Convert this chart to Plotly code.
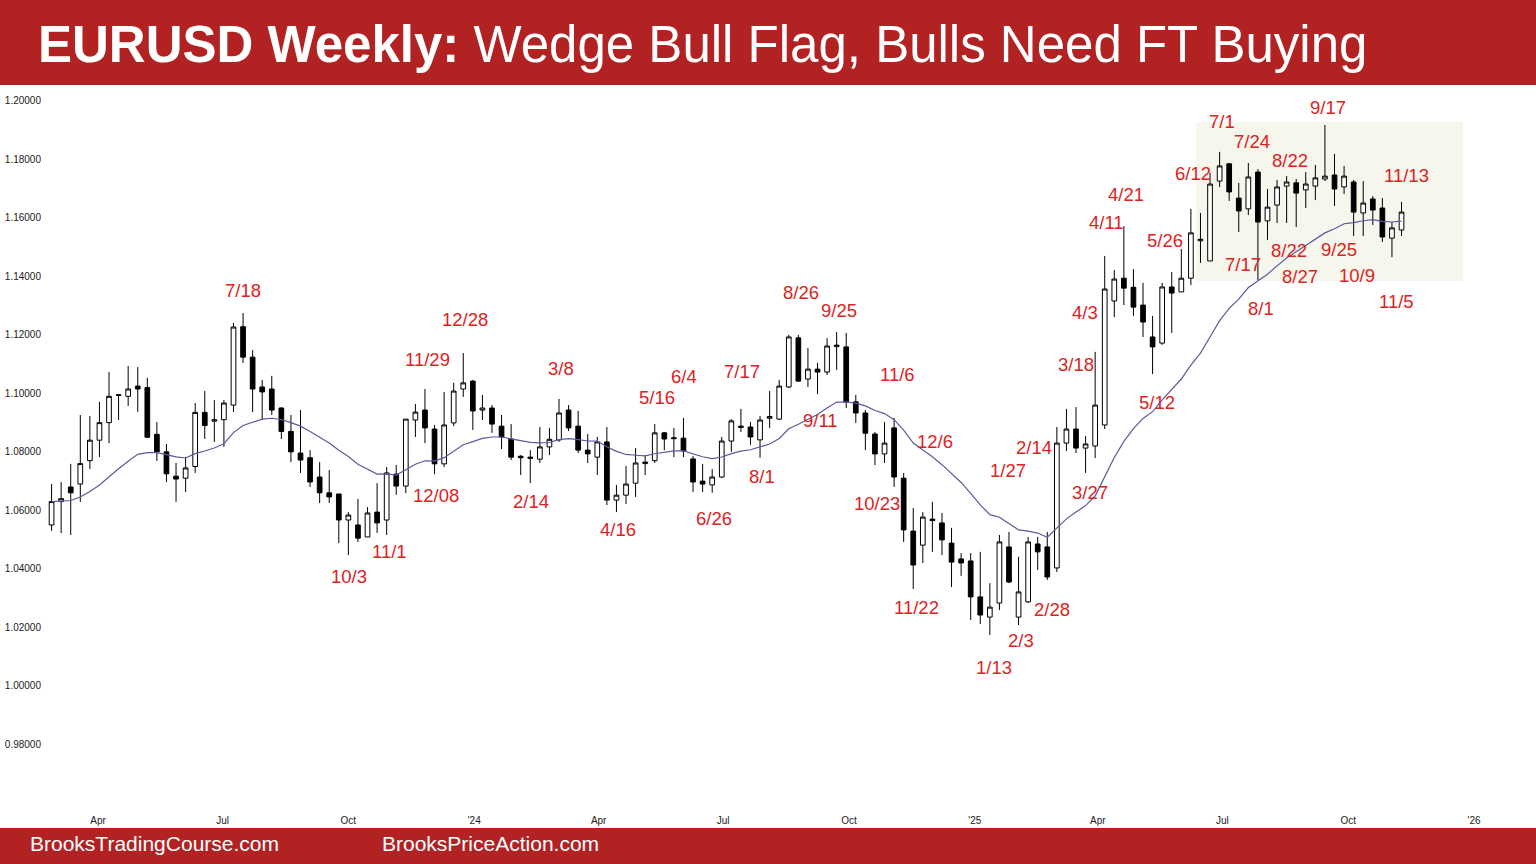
import pandas as pd
import plotly.graph_objects as go

# weekly EURUSD bars (week start dates)
dates = pd.date_range("2023-02-26", periods=142, freq="7D")

opens = [1.055, 1.063, 1.068, 1.069, 1.077, 1.084, 1.090, 1.0993, 1.099, 1.1025,
         1.102, 1.086, 1.080, 1.0717, 1.071, 1.075, 1.0935, 1.0905, 1.091, 1.096,
         1.1228, 1.1124, 1.1022, 1.1015, 1.095, 1.087, 1.0796, 1.078, 1.0714, 1.066,
         1.0656, 1.0567, 1.055, 1.0509, 1.0594, 1.0567, 1.0724, 1.0683, 1.0909, 1.0943,
         1.0878, 1.0759, 1.0899, 1.1015, 1.1042, 1.0943, 1.095, 1.0888, 1.0844, 1.0785,
         1.0782, 1.0775, 1.0817, 1.0841, 1.0943, 1.0888, 1.0806, 1.0782, 1.0834, 1.0635,
         1.0652, 1.0693, 1.0760, 1.0770, 1.0865, 1.0845, 1.0847, 1.0776, 1.0700, 1.0687,
         1.0714, 1.0837, 1.0888, 1.0885, 1.0841, 1.0915, 1.0912, 1.1022, 1.119, 1.1049,
         1.1083, 1.1073, 1.1160, 1.1159, 1.0971, 1.0933, 1.0861, 1.0793, 1.0882, 1.071,
         1.0529, 1.0481, 1.0570, 1.0557, 1.0488, 1.0434, 1.0427, 1.0304, 1.0235, 1.0283,
         1.0475, 1.0235, 1.0287, 1.0485, 1.0475, 1.0403, 1.083, 1.0878, 1.0813, 1.082,
         1.0892, 1.1316, 1.1394, 1.1363, 1.1302, 1.1193, 1.1172, 1.1364, 1.1347, 1.1394,
         1.1522, 1.1453, 1.1726, 1.1785, 1.1668, 1.1631, 1.1757, 1.159, 1.1644, 1.1709,
         1.172, 1.1696, 1.1709, 1.1733, 1.1747, 1.1706, 1.1723, 1.1617, 1.1665, 1.1634,
         1.1531, 1.1559]
highs = [1.069, 1.0697, 1.0759, 1.0926, 1.0923, 1.0971, 1.1073, 1.0995, 1.1094, 1.109,
         1.1053, 1.0902, 1.0827, 1.0762, 1.0783, 1.0967, 1.1008, 1.0977, 1.0977, 1.1241,
         1.1275, 1.1148, 1.1046, 1.106, 1.0953, 1.0926, 1.0943, 1.0806, 1.0765, 1.0738,
         1.0656, 1.0594, 1.0639, 1.0611, 1.0693, 1.0748, 1.0755, 1.0912, 1.0964, 1.1015,
         1.0892, 1.1005, 1.1036, 1.1138, 1.1046, 1.0995, 1.096, 1.0926, 1.0895, 1.0789,
         1.0806, 1.0885, 1.0882, 1.0981, 1.096, 1.094, 1.0861, 1.0851, 1.0885, 1.0687,
         1.0752, 1.0813, 1.0789, 1.0895, 1.0868, 1.0882, 1.0916, 1.0786, 1.0759, 1.0741,
         1.0851, 1.0912, 1.0947, 1.0902, 1.0923, 1.1008, 1.1046, 1.12, 1.12, 1.1155,
         1.1104, 1.1189, 1.121, 1.1207, 1.0995, 1.0943, 1.0868, 1.0902, 1.0916, 1.0728,
         1.0608, 1.0594, 1.0629, 1.0591, 1.054, 1.0454, 1.0454, 1.0458, 1.0351, 1.0516,
         1.0526, 1.0441, 1.0509, 1.0509, 1.0526, 1.0885, 1.0947, 1.0953, 1.0854, 1.1142,
         1.147, 1.1422, 1.1572, 1.1425, 1.1378, 1.1265, 1.1378, 1.1415, 1.1494, 1.1631,
         1.1617, 1.1754, 1.1826, 1.1788, 1.172, 1.1788, 1.1767, 1.1699, 1.173, 1.1743,
         1.1733, 1.1757, 1.1781, 1.1918, 1.1819, 1.1778, 1.173, 1.1726, 1.1675, 1.1668,
         1.1586, 1.1655]
lows = [1.053, 1.0522, 1.0516, 1.0629, 1.0741, 1.0782, 1.083, 1.0909, 1.0957, 1.0937,
        1.0847, 1.0769, 1.0697, 1.0629, 1.0663, 1.0728, 1.0844, 1.0834, 1.0817, 1.0936,
        1.1104, 1.0936, 1.0909, 1.0926, 1.0844, 1.0765, 1.0728, 1.068, 1.0625, 1.0625,
        1.0488, 1.0447, 1.0492, 1.0509, 1.0523, 1.0516, 1.0653, 1.0659, 1.0851, 1.083,
        1.0724, 1.0748, 1.0888, 1.0988, 1.0875, 1.0909, 1.0865, 1.081, 1.0772, 1.0721,
        1.0693, 1.0762, 1.0789, 1.0834, 1.0871, 1.0796, 1.0762, 1.0721, 1.0618, 1.0594,
        1.0622, 1.0646, 1.0721, 1.0762, 1.0806, 1.0782, 1.0782, 1.0663, 1.0663, 1.066,
        1.0711, 1.08, 1.0868, 1.0824, 1.078, 1.0882, 1.0909, 1.1018, 1.1039, 1.1022,
        1.0998, 1.1063, 1.108, 1.095, 1.0899, 1.0806, 1.0755, 1.0762, 1.068, 1.0492,
        1.0331, 1.042, 1.0458, 1.0447, 1.0338, 1.0376, 1.0225, 1.0211, 1.0174, 1.0259,
        1.0351, 1.0208, 1.0283, 1.0396, 1.0362, 1.0389, 1.0803, 1.0796, 1.0728, 1.0779,
        1.0878, 1.1261, 1.1302, 1.1265, 1.1193, 1.1066, 1.1166, 1.1207, 1.1347, 1.137,
        1.1446, 1.1453, 1.1706, 1.1658, 1.1552, 1.161, 1.1388, 1.1525, 1.1583, 1.1583,
        1.1569, 1.1634, 1.1661, 1.1726, 1.1641, 1.1682, 1.1538, 1.1538, 1.1576, 1.1518,
        1.1466, 1.1538]
closes = [1.063, 1.064, 1.066, 1.076, 1.084, 1.090, 1.099, 1.0995, 1.1015, 1.1015,
          1.085, 1.080, 1.0725, 1.0707, 1.0745, 1.0935, 1.089, 1.091, 1.0967, 1.1227,
          1.1124, 1.1015, 1.1005, 1.0943, 1.087, 1.080, 1.0772, 1.0697, 1.066, 1.0646,
          1.0567, 1.0584, 1.0505, 1.0591, 1.0557, 1.0728, 1.0683, 1.0912, 1.0936, 1.0882,
          1.0759, 1.0892, 1.1008, 1.1036, 1.094, 1.0950, 1.0895, 1.0851, 1.0782, 1.078,
          1.0778, 1.0817, 1.0843, 1.0933, 1.0882, 1.0806, 1.0793, 1.0834, 1.0635, 1.0652,
          1.069, 1.0762, 1.0765, 1.0865, 1.0844, 1.0848, 1.0803, 1.0697, 1.0690, 1.0714,
          1.0837, 1.0906, 1.0884, 1.0851, 1.0909, 1.0921, 1.1025, 1.1193, 1.1042, 1.1083,
          1.1073, 1.1162, 1.1165, 1.0971, 1.0933, 1.0864, 1.0793, 1.083, 1.0714, 1.0533,
          1.0413, 1.0577, 1.0565, 1.0499, 1.0423, 1.042, 1.0304, 1.0242, 1.0269, 1.0492,
          1.0355, 1.0321, 1.0492, 1.0458, 1.0372, 1.083, 1.0878, 1.0813, 1.0827, 1.096,
          1.1357, 1.1391, 1.136, 1.1295, 1.1244, 1.1159, 1.1364, 1.1343, 1.1394, 1.1549,
          1.1527, 1.1716, 1.1778, 1.1689, 1.1624, 1.174, 1.1586, 1.1637, 1.1706, 1.1723,
          1.1685, 1.1716, 1.1737, 1.1743, 1.1699, 1.1743, 1.162, 1.1651, 1.1627, 1.1535,
          1.1566, 1.162]

ema = pd.Series(closes).ewm(span=20, adjust=False).mean()

x_ticks = ["2023-04-01", "2023-07-01", "2023-10-01", "2024-01-01", "2024-04-01", "2024-07-01",
           "2024-10-01", "2025-01-01", "2025-04-01", "2025-07-01", "2025-10-01", "2026-01-01"]
x_tick_text = ["Apr", "Jul", "Oct", "'24", "Apr", "Jul", "Oct", "'25", "Apr", "Jul", "Oct", "'26"]
y_ticks = [0.98, 1.00, 1.02, 1.04, 1.06, 1.08, 1.10, 1.12, 1.14, 1.16, 1.18, 1.20]

# swing labels: text, pixel centre (x, y)
labels = [("7/18", 243, 290), ("12/28", 465, 319), ("11/29", 427, 359), ("3/8", 561, 368),
          ("6/4", 684, 376), ("5/16", 657, 397), ("7/17", 742, 371), ("8/26", 801, 292),
          ("9/25", 839, 310), ("11/6", 897, 374), ("9/11", 820, 420), ("12/6", 935, 441),
          ("10/23", 877, 503), ("11/22", 916, 607), ("1/13", 994, 667), ("2/3", 1021, 640),
          ("2/28", 1052, 609), ("1/27", 1008, 470), ("2/14", 1034, 447), ("3/27", 1090, 492),
          ("3/18", 1076, 364), ("4/3", 1085, 312), ("4/11", 1106, 222), ("4/21", 1126, 194),
          ("5/26", 1165, 240), ("5/12", 1157, 402), ("6/12", 1193, 173), ("7/1", 1222, 122),
          ("7/24", 1252, 141), ("8/22", 1290, 160), ("9/17", 1328, 107), ("11/13", 1406, 176),
          ("8/22", 1289, 251), ("7/17", 1243, 264), ("8/27", 1300, 276), ("9/25", 1339, 250),
          ("10/9", 1357, 275), ("8/1", 1261, 308), ("11/5", 1396, 301), ("12/08", 436, 495),
          ("2/14", 531, 501), ("4/16", 618, 529), ("6/26", 714, 518), ("8/1", 762, 476),
          ("11/1", 389, 551), ("10/3", 349, 576)]

W, H = 1536, 864
L, R, T, B = 42, 1500, 90, 805
RED = "#B22222"
LABEL_RED = "#DD2222"


def px(xp, yp):
    return (xp - L) / (R - L), (B - yp) / (B - T)


fig = go.Figure()
fig.add_shape(type="rect", x0="2025-06-12", x1="2025-12-24", y0=1.1384, y1=1.1928,
              fillcolor="#F6F6EC", line_width=0, layer="below")
fig.add_trace(go.Scatter(x=dates, y=ema, mode="lines", line=dict(color="#5A5AA0", width=1.2),
                         hoverinfo="skip"))
fig.add_trace(go.Candlestick(x=dates, open=opens, high=highs, low=lows, close=closes,
                             increasing=dict(fillcolor="white", line=dict(color="black", width=1)),
                             decreasing=dict(fillcolor="black", line=dict(color="black", width=1)),
                             whiskerwidth=0))

# red header / footer bands
x0, y0 = px(0, 0)
x1, y1 = px(W, 85)
fig.add_shape(type="rect", xref="paper", yref="paper", x0=x0, x1=x1, y0=y1, y1=y0,
              fillcolor=RED, line_width=0)
x0, y0 = px(0, 828)
x1, y1 = px(W, H)
fig.add_shape(type="rect", xref="paper", yref="paper", x0=x0, x1=x1, y0=y1, y1=y0,
              fillcolor=RED, line_width=0)

tx, ty = px(36, 44)
fig.add_annotation(xref="paper", yref="paper", x=tx, y=ty, xanchor="left", yanchor="middle",
                   showarrow=False,
                   text="<b>EURUSD Weekly:</b> Wedge Bull Flag, Bulls Need FT Buying",
                   font=dict(family="Liberation Sans", size=51, color="white"))
for txt, xp in [("BrooksTradingCourse.com", 28), ("BrooksPriceAction.com", 380)]:
    fx, fy = px(xp, 844)
    fig.add_annotation(xref="paper", yref="paper", x=fx, y=fy, xanchor="left", yanchor="middle",
                       showarrow=False, text=txt,
                       font=dict(family="Liberation Sans", size=21, color="white"))

for txt, xp, yp in labels:
    fx, fy = px(xp, yp)
    fig.add_annotation(xref="paper", yref="paper", x=fx, y=fy, xanchor="center",
                       yanchor="middle", showarrow=False, text=txt,
                       font=dict(family="Liberation Sans", size=18.5, color=LABEL_RED))

fig.update_layout(
    width=W, height=H, autosize=False,
    margin=dict(l=L, r=W - R, t=T, b=H - B),
    paper_bgcolor="white", plot_bgcolor="white", showlegend=False,
    xaxis=dict(range=["2023-02-19", "2026-01-20"], tickvals=x_ticks, ticktext=x_tick_text,
               showgrid=False, zeroline=False, rangeslider=dict(visible=False), automargin=False,
               ticklabelstandoff=8,
               tickfont=dict(family="Liberation Sans", size=10, color="#222"), ticks=""),
    yaxis=dict(range=[0.95923, 1.20376], tickvals=y_ticks, tickformat=".5f", automargin=False,
               showgrid=False, zeroline=False, ticks="", ticklabelstandoff=0,
               tickfont=dict(family="Liberation Sans", size=10, color="#222")),
)

fig.write_html("out.html", config={"displayModeBar": False},
               post_script="document.body.style.margin='0';document.body.style.overflow='hidden';")
